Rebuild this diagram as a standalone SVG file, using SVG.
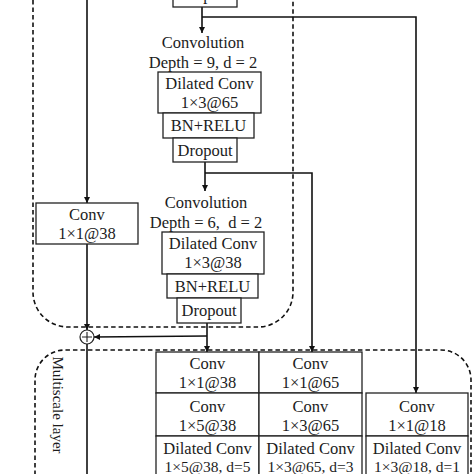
<svg xmlns="http://www.w3.org/2000/svg" width="474" height="474" viewBox="0 0 474 474">
<defs>
<style>
.t{font-family:"Liberation Serif","Times New Roman",serif;font-size:16.5px;fill:#1c1c1c;text-anchor:middle;white-space:pre}
.s{font-size:15.5px}
.b{fill:#fff;stroke:#222;stroke-width:1.3}
.d{fill:none;stroke:#111;stroke-width:1.6;stroke-dasharray:4.5 3}
.c{fill:none;stroke:#111;stroke-width:1.6}
</style>
<marker id="ah" viewBox="0 0 10 10" refX="10" refY="5" markerWidth="6" markerHeight="6" markerUnits="userSpaceOnUse" orient="auto">
<path d="M0,0 L10,5 L0,10 z" fill="#111"/>
</marker>
</defs>
<rect width="474" height="474" fill="#fff"/>

<g id="regions">
<path class="d" d="M33,0 V292 A35,35 0 0 0 68,327 H258 A35,35 0 0 0 293,292 V0"/>
<path class="d" d="M35,490 V380 A30,30 0 0 1 65,350 H441 A30,30 0 0 1 471,380 V490"/>
<text class="t" style="font-size:15px" transform="translate(58,405) rotate(90)" y="5">Multiscale layer</text>
</g>

<g id="connectors">
<line class="c" x1="87" y1="0" x2="87" y2="203" marker-end="url(#ah)"/>
<line class="c" x1="87" y1="244" x2="87" y2="330" marker-end="url(#ah)"/>
<line class="c" x1="87" y1="344" x2="87" y2="480"/>
<line class="c" x1="202" y1="7" x2="202" y2="33" marker-end="url(#ah)"/>
<polyline class="c" points="202,17 416,17 416,393" marker-end="url(#ah)"/>
<line class="c" x1="205" y1="162" x2="205" y2="191" marker-end="url(#ah)"/>
<polyline class="c" points="205,173 312,173 312,352" marker-end="url(#ah)"/>
<line class="c" x1="207" y1="323" x2="207" y2="352" marker-end="url(#ah)"/>
<line class="c" x1="207" y1="336" x2="94" y2="337" marker-end="url(#ah)"/>
</g>

<g id="sum">
<circle cx="87" cy="337" r="7" fill="#fff" stroke="#222" stroke-width="1.2"/>
<path d="M82,337 H92 M87,332 V342" stroke="#222" stroke-width="1.1"/>
</g>

<g id="top-dropout">
<rect class="b" x="173" y="-18" width="64" height="25"/>
<text class="t" x="205" y="0">Dropout</text>
</g>

<g id="conv-block-1">
<text class="t" x="203" y="47.5">Convolution</text>
<text class="t" x="203" y="67.5">Depth = 9, d = 2</text>
<rect class="b" x="158" y="72" width="103" height="41"/>
<text class="t" x="209.5" y="88.5">Dilated Conv</text>
<text class="t" x="209.5" y="107.5">1×3@65</text>
<rect class="b" x="163" y="113" width="91" height="25"/>
<text class="t" x="208.5" y="131">BN+RELU</text>
<rect class="b" x="173" y="138" width="64" height="24"/>
<text class="t" x="205" y="155.5">Dropout</text>
</g>

<g id="conv-block-2">
<text class="t" x="206" y="207.5">Convolution</text>
<text class="t" x="206" y="227.5">Depth = 6,  d = 2</text>
<rect class="b" x="162" y="232" width="102" height="42"/>
<text class="t" x="213" y="248.5">Dilated Conv</text>
<text class="t" x="213" y="267.5">1×3@38</text>
<rect class="b" x="167" y="274" width="91" height="24"/>
<text class="t" x="212.5" y="291.5">BN+RELU</text>
<rect class="b" x="177" y="298" width="64" height="25"/>
<text class="t" x="209" y="316">Dropout</text>
</g>

<g id="conv-left">
<rect class="b" x="36" y="203" width="102" height="41"/>
<text class="t" x="87" y="219.5">Conv</text>
<text class="t" x="87" y="238.5">1×1@38</text>
</g>

<g id="ms-col1">
<rect class="b" x="156" y="352" width="103" height="41"/>
<text class="t" x="207.5" y="368.5">Conv</text>
<text class="t" x="207.5" y="388">1×1@38</text>
<rect class="b" x="156" y="393" width="103" height="43"/>
<text class="t" x="207.5" y="411.5">Conv</text>
<text class="t" x="207.5" y="431">1×5@38</text>
<rect class="b" x="156" y="436" width="103" height="45"/>
<text class="t" x="207.5" y="453.5">Dilated Conv</text>
<text class="t s" x="207.5" y="472">1×5@38, d=5</text>
</g>

<g id="ms-col2">
<rect class="b" x="259" y="352" width="103" height="41"/>
<text class="t" x="310.5" y="368.5">Conv</text>
<text class="t" x="310.5" y="388">1×1@65</text>
<rect class="b" x="259" y="393" width="103" height="43"/>
<text class="t" x="310.5" y="411.5">Conv</text>
<text class="t" x="310.5" y="431">1×3@65</text>
<rect class="b" x="259" y="436" width="103" height="45"/>
<text class="t" x="310.5" y="453.5">Dilated Conv</text>
<text class="t s" x="310.5" y="472">1×3@65, d=3</text>
</g>

<g id="ms-col3">
<rect class="b" x="366" y="393" width="102" height="43"/>
<text class="t" x="417" y="411.5">Conv</text>
<text class="t" x="417" y="431">1×1@18</text>
<rect class="b" x="366" y="436" width="102" height="45"/>
<text class="t" x="417" y="453.5">Dilated Conv</text>
<text class="t s" x="417" y="472">1×3@18, d=1</text>
</g>
</svg>
